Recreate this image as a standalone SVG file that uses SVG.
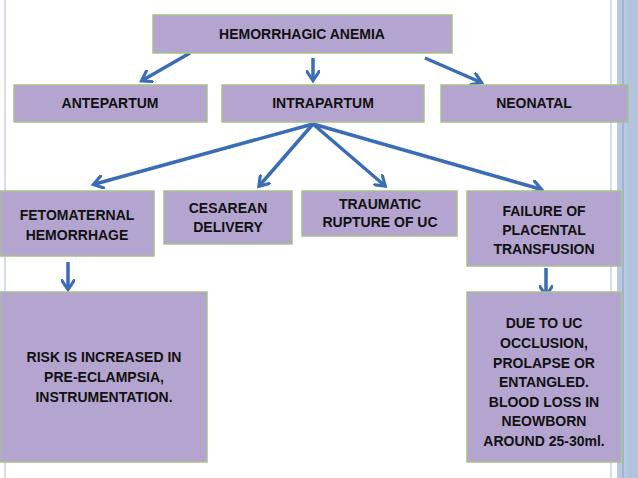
<svg xmlns="http://www.w3.org/2000/svg" width="638" height="478" viewBox="0 0 638 478">
<style>
.b{fill:#b3a5cf;stroke:#a9c08a;stroke-width:1.5}
.t{font-family:"Liberation Sans",Arial,sans-serif;font-weight:bold;font-size:14px;fill:#111;text-anchor:middle}
.c line{stroke:#3a6db6;stroke-width:3.5}
</style>
<defs><marker id="a" markerWidth="4" markerHeight="4" refX="2.5" refY="2" orient="auto"><path d="M0,0 L3,2 L0,4" fill="none" stroke="#3a6db6" stroke-width="0.9"/></marker></defs>
<rect width="638" height="478" fill="#fff"/>
<line x1="5" y1="0" x2="5" y2="478" stroke="#c6d2e4" stroke-width="1.5"/>
<line x1="611" y1="0" x2="611" y2="478" stroke="#c6d2e4" stroke-width="1.5"/>
<rect x="617" y="0" width="21" height="478" fill="#b9c9e1"/>
<rect x="622" y="0" width="2" height="478" fill="#9fb3d3"/>
<rect x="627" y="0" width="11" height="478" fill="#b3c4de"/>
<g class="c">
<line x1="190" y1="53" x2="143" y2="80" marker-end="url(#a)"/>
<line x1="313" y1="58" x2="313" y2="79" marker-end="url(#a)"/>
<line x1="425" y1="58" x2="480" y2="82" marker-end="url(#a)"/>
<line x1="313" y1="124" x2="95" y2="184" marker-end="url(#a)"/>
<line x1="313" y1="124" x2="260" y2="185" marker-end="url(#a)"/>
<line x1="313" y1="124" x2="384" y2="185" marker-end="url(#a)"/>
<line x1="313" y1="124" x2="540" y2="189" marker-end="url(#a)"/>
<line x1="68" y1="262" x2="68" y2="288" marker-end="url(#a)"/>
<line x1="546" y1="268" x2="546" y2="294" marker-end="url(#a)"/>
</g>
<g id="n1"><rect class="b" x="153" y="15" width="299" height="38"/><text class="t" x="302" y="39">HEMORRHAGIC ANEMIA</text></g>
<g id="n2"><rect class="b" x="14" y="85" width="193" height="37"/><text class="t" x="110" y="108">ANTEPARTUM</text></g>
<g id="n3"><rect class="b" x="222" y="85" width="202" height="37"/><text class="t" x="323" y="108">INTRAPARTUM</text></g>
<g id="n4"><rect class="b" x="441" y="85" width="187" height="37"/><text class="t" x="534" y="108">NEONATAL</text></g>
<g id="n5"><rect class="b" x="0" y="191" width="154" height="65"/><text class="t" x="77" y="220">FETOMATERNAL</text><text class="t" x="77" y="240">HEMORRHAGE</text></g>
<g id="n6"><rect class="b" x="164" y="191" width="128" height="53"/><text class="t" x="228" y="213">CESAREAN</text><text class="t" x="228" y="232">DELIVERY</text></g>
<g id="n7"><rect class="b" x="302" y="191" width="155" height="45"/><text class="t" x="380" y="209">TRAUMATIC</text><text class="t" x="380" y="227">RUPTURE OF UC</text></g>
<g id="n8"><rect class="b" x="467" y="191" width="154" height="75"/><text class="t" x="544" y="216">FAILURE OF</text><text class="t" x="544" y="235">PLACENTAL</text><text class="t" x="544" y="254">TRANSFUSION</text></g>
<g id="n9"><rect class="b" x="0" y="292" width="207" height="170"/><text class="t" x="104" y="362">RISK IS INCREASED IN</text><text class="t" x="104" y="382">PRE-ECLAMPSIA,</text><text class="t" x="104" y="402">INSTRUMENTATION.</text></g>
<g id="n10"><rect class="b" x="467" y="292" width="154" height="170"/><text class="t" x="544" y="328">DUE TO UC</text><text class="t" x="544" y="348">OCCLUSION,</text><text class="t" x="544" y="368">PROLAPSE OR</text><text class="t" x="544" y="387">ENTANGLED.</text><text class="t" x="544" y="407">BLOOD LOSS IN</text><text class="t" x="544" y="426">NEOWBORN</text><text class="t" x="544" y="446">AROUND 25-30ml.</text></g>
</svg>
